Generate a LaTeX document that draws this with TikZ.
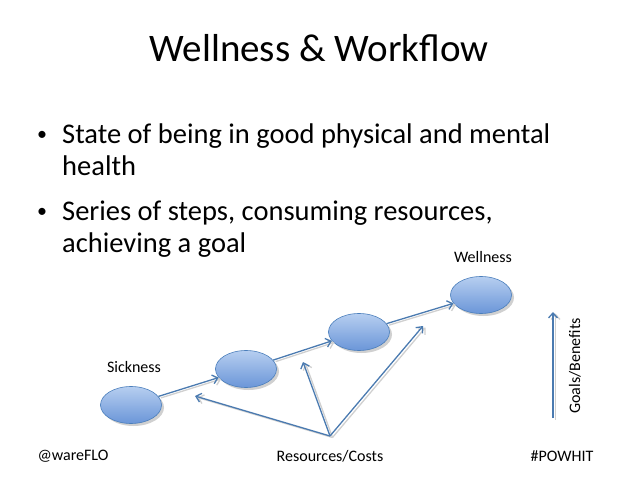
\documentclass[tikz,border=0pt]{standalone}
\usepackage{fontspec}
\setmainfont{Carlito}
\usetikzlibrary{shapes.geometric,arrows.meta}
\definecolor{ebord}{HTML}{4A7EBB}
\definecolor{etop}{HTML}{B6CEF0}
\definecolor{ebot}{HTML}{6B96D8}
\definecolor{arr}{HTML}{4A7AB0}
\definecolor{shd}{HTML}{D0D0D0}
\tikzset{
  stepell/.style={ellipse, minimum width=61pt, minimum height=37pt, inner sep=0pt,
    draw=ebord, line width=0.6pt, top color=etop, bottom color=ebot,
    preaction={fill=shd, transform canvas={shift={(2.5pt,-2.5pt)}}}},
  flowarr/.style={draw=arr, line width=1.3pt, -{Straight Barb[length=5pt,width=9pt]},
    preaction={draw=shd, line width=1.3pt, -{Straight Barb[length=5pt,width=9pt]}, transform canvas={shift={(2.5pt,-1.5pt)}}}},
  small/.style={font=\fontsize{16}{19}\selectfont, inner sep=0pt},
  bul/.style={font=\fontsize{28.5}{34}\selectfont, inner sep=0pt, anchor=base west},
  dot/.style={font=\fontsize{20}{24}\selectfont, inner sep=0pt, anchor=base},
}
\begin{document}
\begin{tikzpicture}[x=1pt,y=-1pt]
\useasboundingbox (0,0) rectangle (638,479);
\node[anchor=base, inner sep=0pt, font=\fontsize{39}{46}\selectfont] (title) at (319,61) {Wellness \& Workflow};
\node[dot] (b1) at (42,140) {\textbullet};
\node[bul] (l1) at (62,143) {State of being in good physical and mental};
\node[bul] (l2) at (62,175) {health};
\node[dot] (b2) at (42,217) {\textbullet};
\node[bul] (l3) at (62,220) {Series of steps, consuming resources,};
\node[bul] (l4) at (62,252) {achieving a goal};

\node[stepell] (e1) at (131,405) {};
\node[stepell] (e2) at (246,369) {};
\node[stepell] (e3) at (359,332) {};
\node[stepell] (e4) at (481,295) {};

\node[small] (sick) at (134,367) {Sickness};
\node[small] (well) at (483,257) {Wellness};
\node[small] (res) at (330,456) {Resources/Costs};
\node[small] (ware) at (73,456) {@wareFLO};
\node[small] (pow) at (562,456) {\#POWHIT};
\node[small, rotate=90] (goals) at (575,366) {Goals/Benefits};

\draw[flowarr] (e1) -- (e2);
\draw[flowarr] (e2) -- (e3);
\draw[flowarr] (e3) -- (e4);

\coordinate (r0) at (330,436);
\coordinate (r1) at (195,396);
\coordinate (r2) at (303,362);
\coordinate (r3) at (423,326);
\draw[flowarr] (r0) -- (r1);
\draw[flowarr] (r0) -- (r2);
\draw[flowarr] (r0) -- (r3);

\coordinate (g0) at (553,418);
\coordinate (g1) at (553,312);
\draw[flowarr] (g0) -- (g1);
\end{tikzpicture}
\end{document}
